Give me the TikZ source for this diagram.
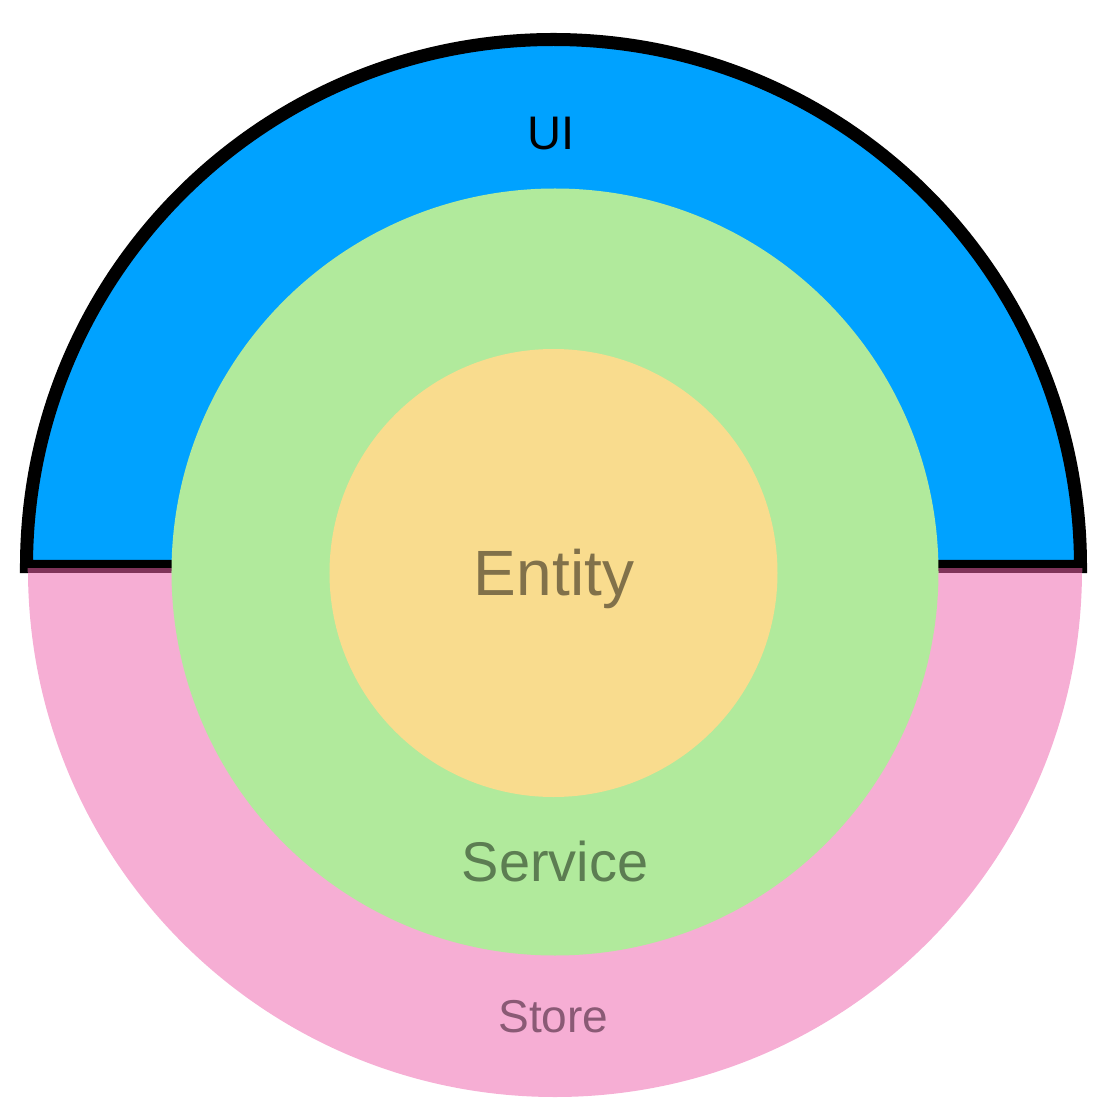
\documentclass[tikz,border=0pt]{standalone}
\usepackage{fontspec}
\setmainfont{Liberation Sans}
\usepackage{xcolor}
\usepackage{tikz}
\definecolor{uiblue}{HTML}{00A2FF}
\definecolor{storepink}{HTML}{F6AED4}
\definecolor{storeline}{HTML}{7F3459}
\definecolor{servicegreen}{HTML}{B1EA9C}
\definecolor{entityyellow}{HTML}{F9DC8E}
\definecolor{entitytext}{HTML}{81714A}
\definecolor{servicetext}{HTML}{5C7D52}
\definecolor{storetext}{HTML}{8A5A75}
\tikzset{
    layer/.style = {draw=none},
    label/.style = {anchor=base, inner sep=0pt},
}

\begin{document}
\begin{tikzpicture}[
    x=0.01cm, y=0.01cm
  ]
  \useasboundingbox (-553.5,-551.5) rectangle (564.5,566.5);
  % UI half with black rim
  \filldraw[fill=uiblue, draw=black, line width=0.13cm, line join=miter]
    (-527,0) arc (180:0:527) -- cycle;
  % Store half
  \begin{scope}
    \clip (1.5,-3.5) circle (527);
    \fill[storepink] (-600,-1.5) rectangle (600,-600);
    \fill[storeline] (-600,-1.5) rectangle (600,-6.5);
  \end{scope}
  % Service and Entity
  \fill[servicegreen] (1.5,-5.5) circle (383.5);
  \fill[entityyellow] (0,-6.5) circle (224);
  % labels
  \node[label, font=\fontsize{13.4}{16}\selectfont] (ui) at (-2.5,416.5) {UI};
  \node[label, text=entitytext, font=\fontsize{18.2}{22}\selectfont] (entity) at (0.5,-29.5) {Entity};
  \node[label, text=servicetext, font=\fontsize{15.9}{19}\selectfont] (service) at (1.5,-314.5) {Service};
  \node[label, text=storetext, font=\fontsize{13.1}{16}\selectfont] (store) at (0,-465.5) {Store};
\end{tikzpicture}
\end{document}
